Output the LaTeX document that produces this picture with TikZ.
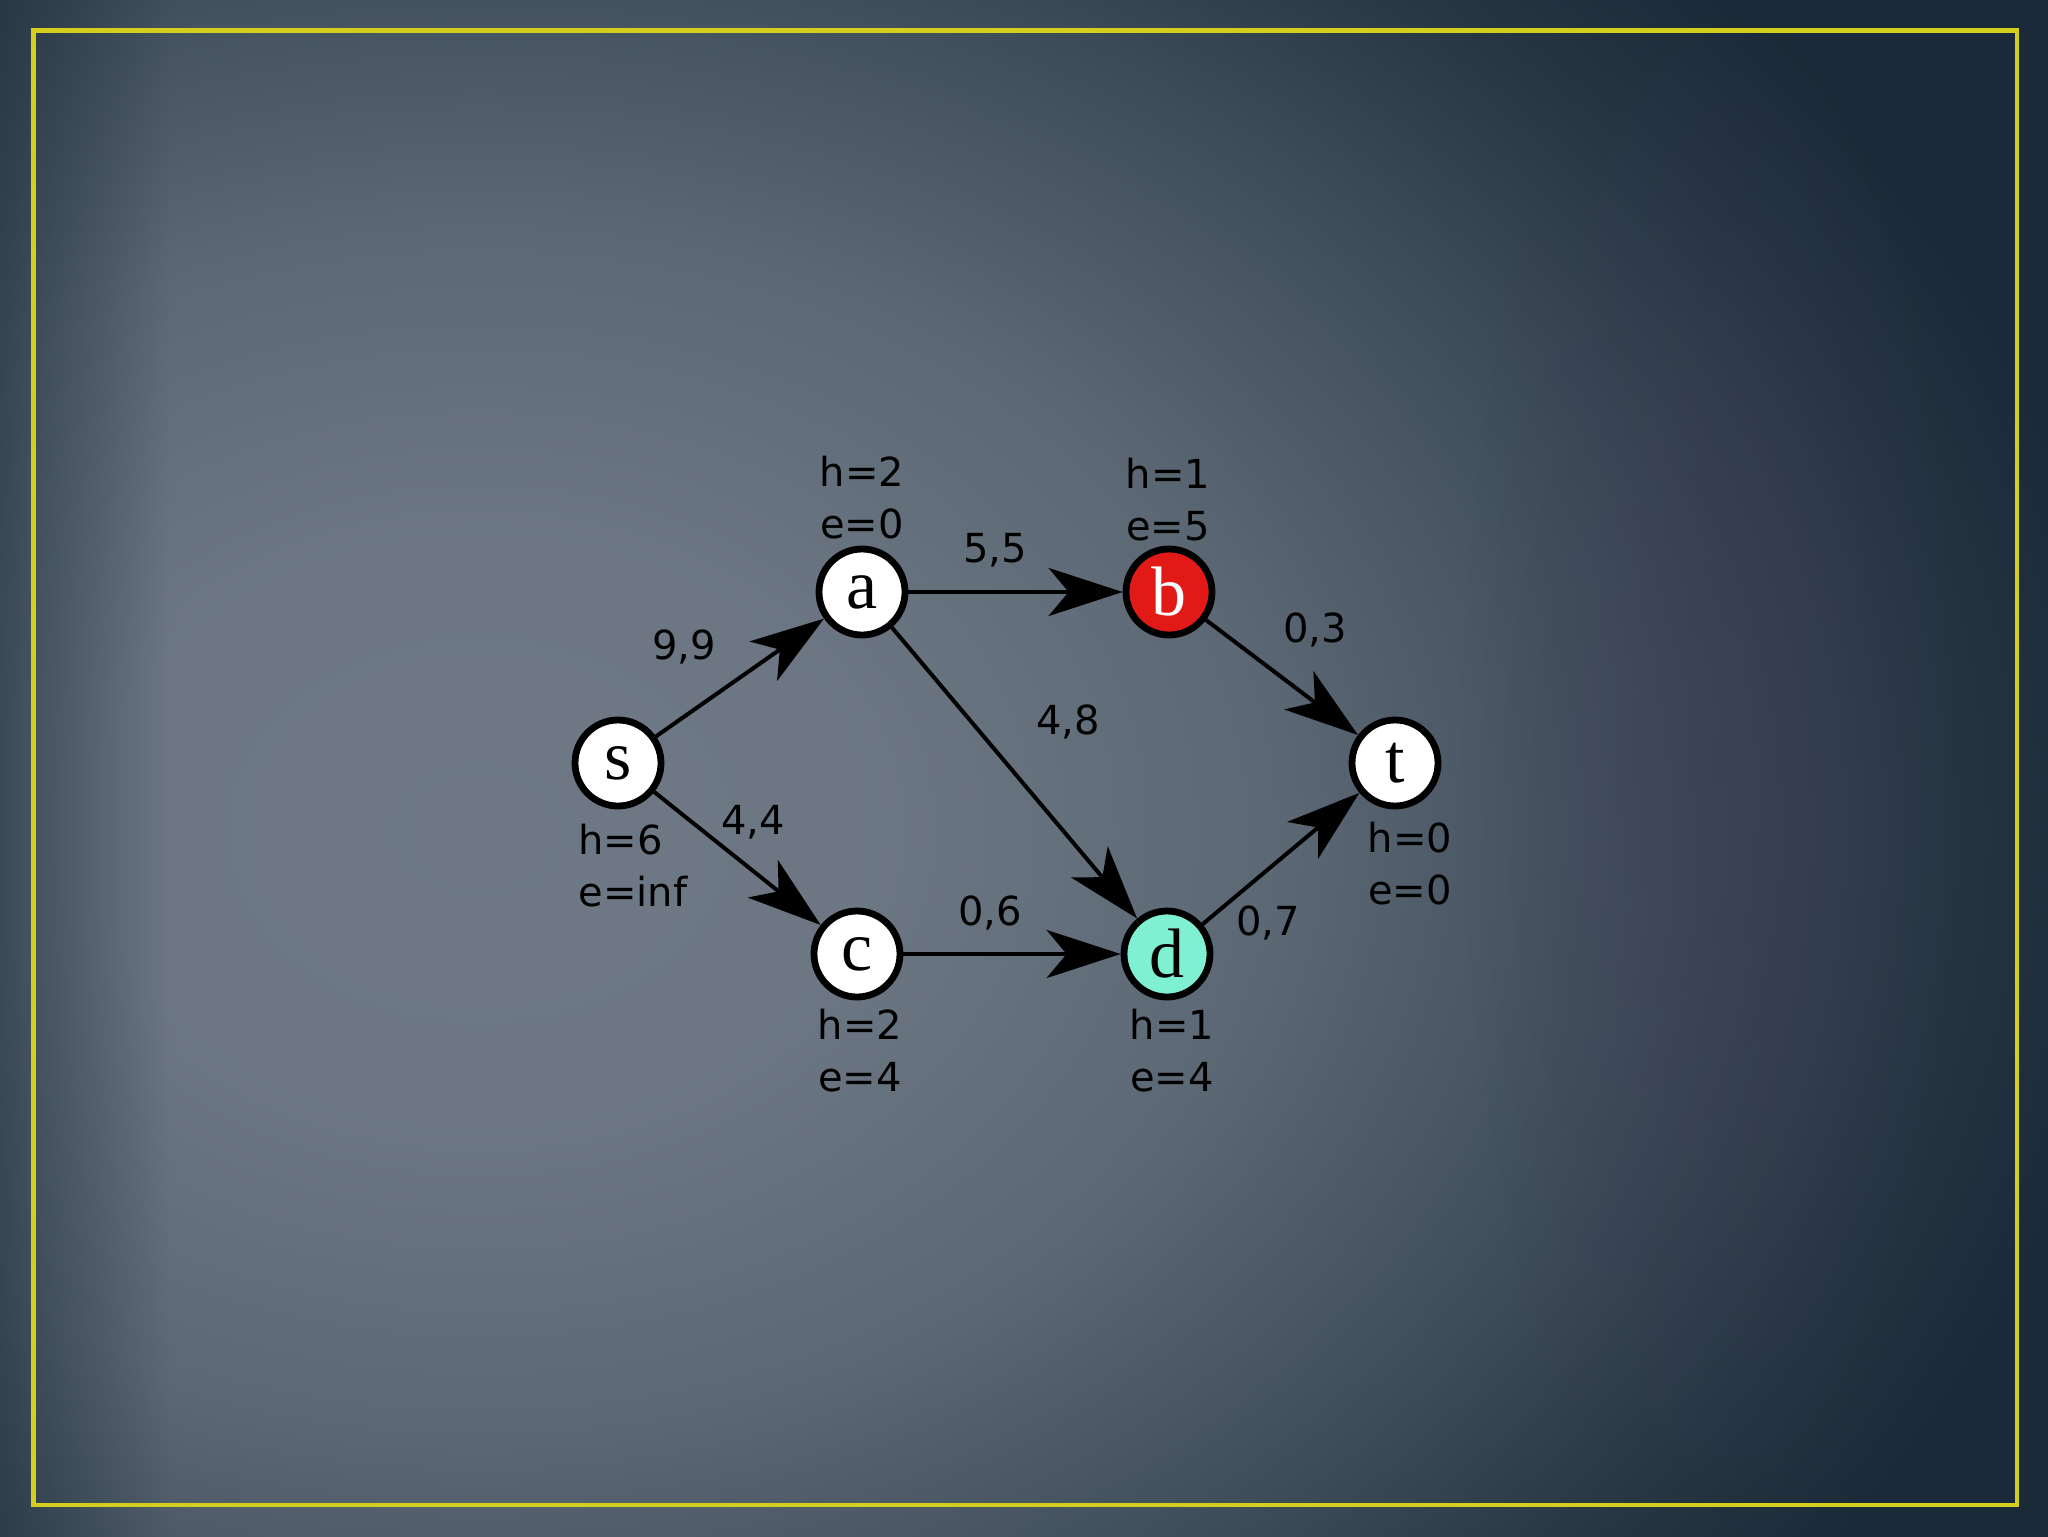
\documentclass[tikz,border=0pt]{standalone}
\usepackage{fontspec}
\setmainfont{Liberation Serif}
\newfontfamily\labfont{DejaVu Sans}
\usetikzlibrary{arrows.meta,fadings}
\definecolor{bgdark}{HTML}{1B2A38}
\definecolor{bglight}{HTML}{6E7985}
\definecolor{bgpurple}{HTML}{3C3A55}
\definecolor{frameyellow}{HTML}{D4CE1C}
\definecolor{nodered}{HTML}{E11A17}
\definecolor{nodeaqua}{HTML}{7FF0D2}
\pgfdeclareradialshading{bgshade}{\pgfpoint{0bp}{0bp}}{color(0bp)=(bglight); color(6bp)=(bglight!97!bgdark); color(12bp)=(bglight!78!bgdark); color(18bp)=(bglight!42!bgdark); color(22bp)=(bglight!15!bgdark); color(25bp)=(bgdark); color(50bp)=(bgdark)}
\tikzfading[name=softout, inner color=transparent!0, outer color=transparent!100]
\begin{document}
\begin{tikzpicture}[x=0.5pt,y=-0.5pt,
  vert/.style={circle,draw=black,line width=3.4pt,fill=white,minimum size=43pt,inner sep=0pt,font=\fontsize{35}{35}\selectfont},
  lab/.style={font=\labfont\fontsize{20}{26}\selectfont,text=black,inner sep=0pt,align=center},
  arc/.style={line width=2pt,-{Stealth[length=37pt,width=24pt,inset=10pt]}}]
\useasboundingbox (0,0) rectangle (2048,1536);
\begin{scope}
\clip (-10,-10) rectangle (2058,1546);
\fill[bgdark] (-10,-10) rectangle (2058,1546);
\shade[shading=bgshade] (480,830) ellipse [x radius=1650, y radius=1250];
\fill[bgpurple,path fading=softout,fill opacity=0.4] (1720,760) ellipse [x radius=260, y radius=800];
\fill[bgdark,path fading=east,fill opacity=0.6] (-10,-10) rectangle (170,1546);
\end{scope}
\draw[frameyellow,line width=2.2pt] (33.5,30.5) rectangle (2017,1505);
% vertices
\node[vert] (s) at (618,763) {s};
\node[vert] (a) at (862,592) {a};
\node[vert,fill=nodered,text=white] (b) at (1169,592) {b};
\node[vert] (t) at (1395,763) {t};
\node[vert] (c) at (857,954) {c};
\node[vert,fill=nodeaqua] (d) at (1167,954) {d};
% edges
\draw[arc] (s) -- (a);
\draw[arc] (s) -- (c);
\draw[arc] (a) -- (b);
\draw[arc] (a) -- (d);
\draw[arc] (b) -- (t);
\draw[arc] (c) -- (d);
\draw[arc] (d) -- (t);
% edge labels
\node[lab] (l99) at (684,647) {9,9};
\node[lab] (l55) at (995,550) {5,5};
\node[lab] (l48) at (1068,722) {4,8};
\node[lab] (l03) at (1315,630) {0,3};
\node[lab] (l44) at (753,822) {4,4};
\node[lab] (l06) at (990,913) {0,6};
\node[lab] (l07) at (1268,923) {0,7};
% vertex labels
\node[lab] (ha) at (862,498) {h=2\\e=0};
\node[lab] (hb) at (1168,500) {h=1\\e=5};
\node[lab] (hc) at (860,1051) {h=2\\e=4};
\node[lab] (hd) at (1172,1051) {h=1\\e=4};
\node[lab] (ht) at (1410,864) {h=0\\e=0};
\node[lab,align=left,anchor=west] (hs) at (578,866) {h=6\\e=inf};
\end{tikzpicture}
\end{document}
